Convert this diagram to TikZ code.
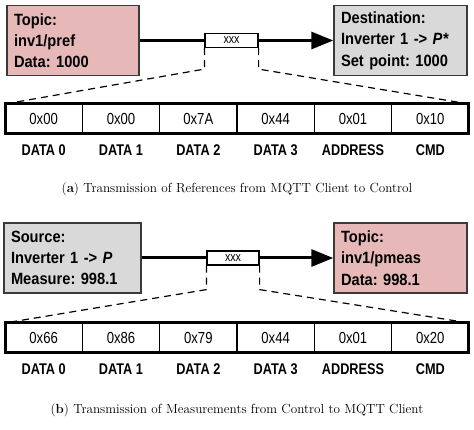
\documentclass[tikz,border=0pt]{standalone}
\usepackage{fontspec}
\setsansfont{Liberation Sans}
\newfontfamily\boxfont[FakeStretch=0.9]{Liberation Sans}
\newfontfamily\cellfont[FakeStretch=0.82]{Liberation Sans}
\usetikzlibrary{arrows.meta, positioning}
\frenchspacing

\definecolor{topicpink}{HTML}{E6B9B8}
\definecolor{infogray}{HTML}{D9D9D9}
\definecolor{boxline}{HTML}{3A3A3A}

\begin{document}
\begin{tikzpicture}[x=1pt, y=-1pt,
      node distance=10pt,
      msg/.style={draw=boxline, line width=1.4pt, minimum height=70pt, inner xsep=7pt, inner ysep=0pt, text width=118pt, align=left, font=\boxfont\bfseries\fontsize{16.3}{21.3}\selectfont},
      topic/.style={msg, fill=topicpink},
      info/.style={msg, fill=infogray},
      pkt/.style={draw, line width=1.2pt, fill=white, minimum width=53pt, minimum height=14pt, inner sep=0pt, font=\cellfont\fontsize{13}{13}\selectfont},
      cell/.style={draw, line width=1.5pt, outer sep=0pt, minimum width=77.33pt, minimum height=30pt, inner sep=0pt, font=\cellfont\fontsize{16}{18}\selectfont},
      bytelabel/.style={inner sep=0pt, text height=11pt, text depth=0pt, font=\cellfont\bfseries\fontsize{15.5}{18}\selectfont},
      caption/.style={inner sep=0pt, font=\fontsize{13.2}{15}\selectfont},
      link/.style={line width=3pt},
      arrow/.style={-{Triangle[length=22pt, width=17pt]}, line width=3pt},
      zoomline/.style={line width=1.2pt, dash pattern=on 7pt off 5pt},
      rowframe/.style={line width=3pt}
  ]
    \useasboundingbox (0,0) rectangle (474,430);

    % (a) reference from MQTT to control
    \node[topic] (topicA) at (73,40.5) {Topic:\\inv1/pref\\Data: 1000};
    \node[pkt] (xxxA) at (231.5,40.5) {xxx};
    \node[info, text width=119pt] (destA) at (400.5,40.5) {Destination:\\Inverter 1 -> \textit{P*}\\Set point: 1000};

    \node[cell, anchor=north west] (a0) at (5,104) {0x00};
    \node[cell, right=0pt of a0] (a1) {0x00};
    \node[cell, right=0pt of a1] (a2) {0x7A};
    \node[cell, right=0pt of a2] (a3) {0x44};
    \node[cell, right=0pt of a3] (a4) {0x01};
    \node[cell, right=0pt of a4] (a5) {0x10};
    \draw[rowframe] (a0.north west) rectangle (a5.south east);

    \node[bytelabel, below=of a0] (la0) {DATA 0};
    \node[bytelabel, below=of a1] (la1) {DATA 1};
    \node[bytelabel, below=of a2] (la2) {DATA 2};
    \node[bytelabel, below=of a3] (la3) {DATA 3};
    \node[bytelabel, below=of a4] (la4) {ADDRESS};
    \node[bytelabel, below=of a5] (la5) {CMD};

    \draw[link] (topicA) -- (xxxA);
    \draw[arrow] (xxxA) -- (destA);
    \draw[zoomline] (xxxA.south west) -- ++(0,21) -- (a0.north west);
    \draw[zoomline] (xxxA.south east) -- ++(0,21) -- (a5.north east);

    \node[caption] (capA) at (237,189) {(\textbf{a}) Transmission of References from MQTT Client to Control};

    % (b) measurement from control to MQTT
    \node[info, text width=123pt] (srcB) at (72.5,258) {Source:\\Inverter 1 -> \textit{P}\\Measure: 998.1};
    \node[pkt, minimum width=52pt] (xxxB) at (233,258) {xxx};
    \node[topic, text width=119pt] (topicB) at (400.5,258) {Topic:\\inv1/pmeas\\Data: 998.1};

    \node[cell, anchor=north west] (b0) at (5,323) {0x66};
    \node[cell, right=0pt of b0] (b1) {0x86};
    \node[cell, right=0pt of b1] (b2) {0x79};
    \node[cell, right=0pt of b2] (b3) {0x44};
    \node[cell, right=0pt of b3] (b4) {0x01};
    \node[cell, right=0pt of b4] (b5) {0x20};
    \draw[rowframe] (b0.north west) rectangle (b5.south east);

    \node[bytelabel, below=of b0] (lb0) {DATA 0};
    \node[bytelabel, below=of b1] (lb1) {DATA 1};
    \node[bytelabel, below=of b2] (lb2) {DATA 2};
    \node[bytelabel, below=of b3] (lb3) {DATA 3};
    \node[bytelabel, below=of b4] (lb4) {ADDRESS};
    \node[bytelabel, below=of b5] (lb5) {CMD};

    \draw[link] (srcB) -- (xxxB);
    \draw[arrow] (xxxB) -- (topicB);
    \draw[zoomline] (xxxB.south west) -- ++(0,24) -- (b0.north west);
    \draw[zoomline] (xxxB.south east) -- ++(0,24) -- (b5.north east);

    \node[caption] (capB) at (237,410) {(\textbf{b}) Transmission of Measurements from Control to MQTT Client};
  \end{tikzpicture}
\end{document}
